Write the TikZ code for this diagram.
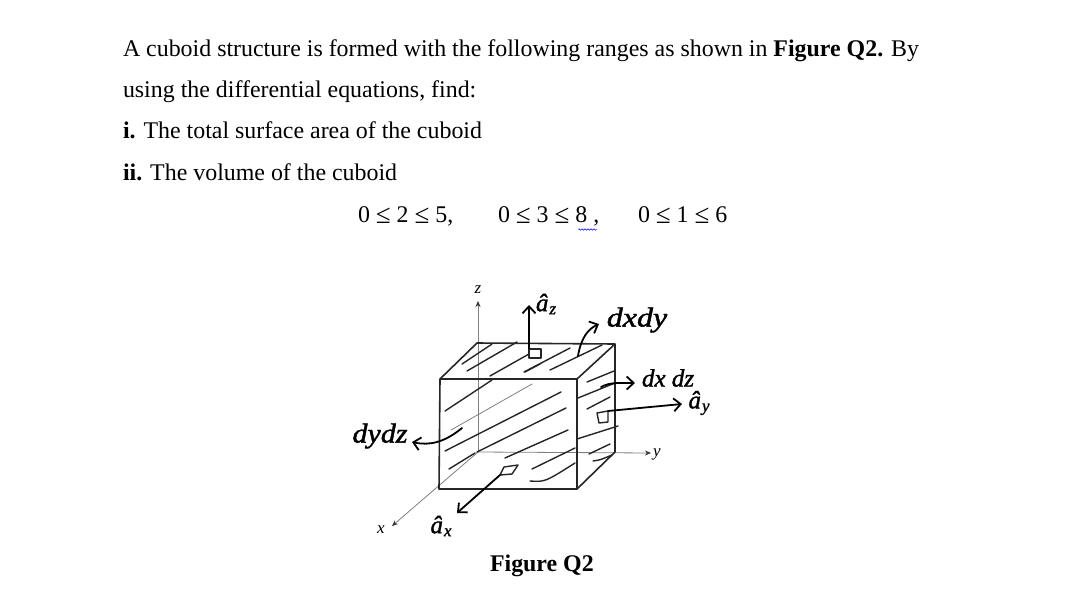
\documentclass[tikz,border=0pt]{standalone}
\usepackage{fontspec}
\setmainfont{Liberation Serif}
\newfontfamily\handfont[FakeBold=1.4]{Liberation Serif Italic}
\usetikzlibrary{arrows.meta,decorations.pathmorphing}
\newcommand{\myleq}{{\fontsize{27}{28}\selectfont\raisebox{-1.6pt}{≤}}}
\newcommand{\hatsub}[1]{â\kern1pt\raisebox{-3pt}{\fontsize{17}{18}\selectfont #1}}
\tikzset{
  bodytext/.style={anchor=base west,inner sep=0pt,outer sep=0pt,font=\fontsize{23.9}{28}\selectfont},
  handtext/.style={anchor=center,inner sep=0pt,outer sep=0pt,font=\fontsize{25}{28}\selectfont\handfont},
  axislabel/.style={anchor=center,inner sep=0pt,outer sep=0pt,font=\fontsize{17}{18}\selectfont\itshape},
  edge/.style={line width=1.6pt,black!85},
  hatch/.style={line width=1.4pt,black!85,line cap=round},
  fainthatch/.style={line width=0.7pt,black!55,line cap=round},
  axis/.style={line width=0.8pt,black!50,-{Stealth[length=6pt,width=5pt,black!80]}},
  handarrow/.style={line width=1.8pt,black,line cap=round,-{Straight Barb[length=7pt,width=13pt,line width=1.8pt]}},
  smallbox/.style={line width=1.4pt,black!85,line join=round}
}
\begin{document}
\begin{tikzpicture}[x=1pt,y=-1pt]
\useasboundingbox (0,0) rectangle (1069,592);
\fill[white] (0,0) rectangle (1069,592);
% text
\node[bodytext] (l1) at (123,56) {A cuboid structure is formed with the following ranges as shown in \textbf{Figure Q2.} By};
\node[bodytext] (l2) at (123,97) {using the differential equations, find:};
\node[bodytext] (l3) at (123,138) {\textbf{i.} The total surface area of the cuboid};
\node[bodytext] (l4) at (123,180) {\textbf{ii.} The volume of the cuboid};
\node[bodytext] (r1) at (358,222) {0 \myleq{} 2 \myleq{} 5,};
\node[bodytext] (r2) at (498,222) {0 \myleq{} 3 \myleq{} 8 ,};
\node[bodytext] (r3) at (638,222) {0 \myleq{} 1 \myleq{} 6};
\node[bodytext] (cap) at (490,571) {\textbf{Figure Q2}};
\coordinate (sq1) at (578,229.5);
\coordinate (sq2) at (597,229.5);
\draw[blue,line width=0.5pt,decorate,decoration={snake,amplitude=0.8pt,segment length=3pt}] (sq1) -- (sq2);
% cube corners
\coordinate (ftl) at (440,379);
\coordinate (ftr) at (577,379);
\coordinate (fbl) at (439,489);
\coordinate (fbr) at (577,489);
\coordinate (btl) at (477,343);
\coordinate (btr) at (615,344);
\coordinate (bbr) at (615,452);
\coordinate (bbl) at (478,452);
% axes
\node[axislabel] (zl) at (478,290) {z};
\node[axislabel] (yl) at (657,454) {y};
\node[axislabel] (xl) at (381,530) {x};
\coordinate (ztip) at (478,301);
\coordinate (ytip) at (651,453);
\coordinate (xtip) at (392,526);
\draw[axis] (bbl) -- (ztip);
\draw[axis] (bbl) -- (ytip);
\draw[axis] (bbl) -- (xtip);
% cube
\draw[edge,line join=round] (ftl) -- (ftr) -- (fbr) -- (fbl) -- cycle;
\draw[edge,line join=round] (ftl) -- (btl) -- (btr) -- (ftr);
\draw[edge,line join=round] (btr) -- (bbr) -- (fbr);
% top face hatching
\draw[hatch] (462,364) -- (492,344);
\draw[hatch] (467,371) -- (517,342);
\draw[hatch] (490,376) -- (529,354);
\draw[hatch] (525,372) -- (540,364);
\draw[hatch] (524,372) -- (570,348);
\draw[hatch] (550,370) -- (602,345);
% right face hatching
\draw[hatch] (587,382) -- (614,371);
\draw[hatch] (578,398) -- (615,383);
\draw[hatch] (587,409) -- (610,397);
\draw[hatch] (577,439) -- (618,426);
\draw[hatch] (589,454) -- (610,444);
\draw[hatch] (593,461) .. controls (600,460) .. (612,455);
% front face hatching
\draw[hatch] (445,411) -- (492,380);
\draw[fainthatch] (451,430) -- (532,384);
\draw[hatch] (445,451) -- (561,392);
\draw[hatch] (449,469) -- (475,453);
\draw[hatch] (477,452) -- (566,408);
\draw[hatch] (505,458) -- (568,430);
\draw[hatch] (532,469) -- (575,448);
\draw[hatch] (530,481) .. controls (545,482) .. (575,463);
% small squares
\coordinate (ztopa) at (529,349);
\coordinate (ztopb) at (541,349);
\coordinate (ztopc) at (541,358);
\coordinate (ztopd) at (529,358);
\draw[smallbox] (ztopa) -- (ztopb) -- (ztopc) -- (ztopd) -- cycle;
\coordinate (ya) at (597,413);
\coordinate (yb) at (608,411);
\coordinate (yc) at (608,422);
\coordinate (yd) at (599,423);
\draw[smallbox] (ya) -- (yb) -- (yc) -- (yd) -- cycle;
\coordinate (xa) at (504,467);
\coordinate (xb) at (518,465);
\coordinate (xc) at (512,474);
\coordinate (xd) at (500,475);
\draw[smallbox] (xa) -- (xb) -- (xc) -- (xd) -- cycle;
% labels
\node[handtext] (az) at (546,304) {\hatsub{z}};
\node[handtext] (dxdy) at (637,320) {\scalebox{1.28}[1.1]{dxdy}};
\node[handtext] (dxdz) at (668,378) {dx dz};
\node[handtext] (ay) at (699,403) {\hatsub{y}};
\node[handtext] (dydz) at (380,436) {\scalebox{1.2}[1.1]{dydz}};
\node[handtext] (ax) at (441,526) {\hatsub{x}};
% arrows
\coordinate (atz) at (529,305);
\coordinate (aty) at (682,404);
\coordinate (atx) at (457,513);
\coordinate (s1) at (578,356);
\coordinate (e1) at (599,324);
\coordinate (s2) at (601,387);
\coordinate (e2) at (635,383);
\coordinate (s3) at (462,428);
\coordinate (e3) at (412,442);
\draw[handarrow] (ztopa) -- (atz);
\draw[handarrow] (yb) -- (aty);
\draw[handarrow] (xd) -- (atx);
\draw[handarrow] (s1) .. controls (581,338) and (588,329) .. (e1);
\draw[handarrow] (s2) .. controls (610,382) and (620,383) .. (e2);
\draw[handarrow] (s3) .. controls (445,442) and (430,446) .. (e3);
\end{tikzpicture}
\end{document}
